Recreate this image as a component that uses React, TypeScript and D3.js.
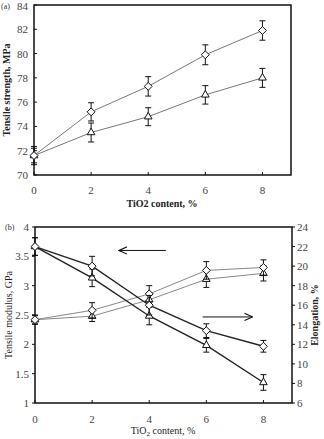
import React from "react";
import * as d3 from "d3";

if (typeof document !== "undefined") document.body.style.margin = "0";

const xTicks = [0, 2, 4, 6, 8];
const content = [0, 2, 4, 6, 8];

// (a) tensile strength, MPa
const tsDiamond = [71.6, 75.2, 77.3, 79.9, 81.9];
const tsDiamondErr = [0.75, 0.75, 0.8, 0.82, 0.8];
const tsTriangle = [71.6, 73.5, 74.8, 76.6, 78.0];
const tsTriangleErr = [0.6, 0.78, 0.74, 0.76, 0.78];
const tsTicks = [70, 72, 74, 76, 78, 80, 82, 84];

// (b) tensile modulus, GPa (left axis)
const modDiamond = [2.42, 2.58, 2.86, 3.26, 3.31];
const modDiamondErr = [0.08, 0.13, 0.14, 0.15, 0.13];
const modTriangle = [2.42, 2.48, 2.76, 3.11, 3.21];
const modTriangleErr = [0.07, 0.09, 0.12, 0.14, 0.13];
const modTicks = [1, 1.5, 2, 2.5, 3, 3.5, 4];

// (b) elongation, % (right axis)
const elDiamond = [22.0, 20.0, 16.0, 13.4, 11.8];
const elDiamondErr = [0.9, 1.0, 1.0, 0.7, 0.6];
const elTriangle = [22.0, 18.8, 14.9, 11.9, 8.1];
const elTriangleErr = [0.9, 0.9, 0.9, 0.7, 0.8];
const elTicks = [6, 8, 10, 12, 14, 16, 18, 20, 22, 24];

const FONT = "'Liberation Serif', 'Times New Roman', 'DejaVu Serif', serif";

type Pt = { x: number; y: number; e: number };
const pts = (ys: number[], es: number[]): Pt[] =>
  content.map((x, i) => ({ x, y: ys[i], e: es[i] }));

function Series({
  data, xs, ys, marker, stroke, width,
}: {
  data: Pt[]; xs: d3.ScaleLinear<number, number>; ys: d3.ScaleLinear<number, number>;
  marker: "diamond" | "triangle"; stroke: string; width: number;
}) {
  const line = d3.line<Pt>().x((d) => xs(d.x)).y((d) => ys(d.y));
  const sym = d3.symbol().type(marker === "diamond" ? d3.symbolDiamond2 : d3.symbolTriangle2).size(marker === "diamond" ? 40 : 42)();
  return (
    <g>
      <path d={line(data) || ""} fill="none" stroke={stroke} strokeWidth={width} />
      {data.map((d, i) => (
        <g key={i}>
          <line x1={xs(d.x)} x2={xs(d.x)} y1={ys(d.y - d.e)} y2={ys(d.y + d.e)} stroke="#111" strokeWidth={1} />
          <line x1={xs(d.x) - 3} x2={xs(d.x) + 3} y1={ys(d.y - d.e)} y2={ys(d.y - d.e)} stroke="#111" strokeWidth={1} />
          <line x1={xs(d.x) - 3} x2={xs(d.x) + 3} y1={ys(d.y + d.e)} y2={ys(d.y + d.e)} stroke="#111" strokeWidth={1} />
          <path d={sym || ""} transform={`translate(${xs(d.x)},${ys(d.y)})`} fill="white" stroke="#111" strokeWidth={1} />
        </g>
      ))}
    </g>
  );
}

export default function App() {
  // panel (a)
  const xa = d3.scaleLinear().domain([0, 9]).range([34, 291]);
  const ya = d3.scaleLinear().domain([70, 84]).range([175, 5]);
  // panel (b)
  const xb = d3.scaleLinear().domain([0, 9]).range([35, 292]);
  const yb = d3.scaleLinear().domain([1, 4]).range([403, 227]);
  const yr = d3.scaleLinear().domain([6, 24]).range([403, 227]);

  const tickStyle = { fontFamily: FONT, fontSize: 11, fill: "#444" } as const;

  return (
    <svg width={324} height={439} style={{ display: "block", background: "white" }}>
      <defs>
        <marker id="ah" viewBox="0 0 10 10" refX="9" refY="5" markerWidth="9" markerHeight="9" orient="auto-start-reverse" markerUnits="userSpaceOnUse">
          <path d="M0,1 L9,5 L0,9" fill="none" stroke="#111" strokeWidth={1.2} />
        </marker>
      </defs>

      {/* ---------- panel (a) ---------- */}
      <text x={1} y={9} style={{ fontFamily: FONT, fontSize: 8, fill: "#333" }}>(a)</text>
      <rect x={xa(0)} y={ya(84)} width={xa(9) - xa(0)} height={ya(70) - ya(84)} fill="none" stroke="#111" strokeWidth={1.5} />
      {tsTicks.map((t) => (
        <g key={t}>
          <line x1={xa(0)} x2={xa(0) + 3} y1={ya(t)} y2={ya(t)} stroke="#111" />
          <text x={28} y={Math.max(ya(t) + 4, 10)} textAnchor="end" style={tickStyle}>{t}</text>
        </g>
      ))}
      {xTicks.map((t) => (
        <g key={t}>
          <line x1={xa(t)} x2={xa(t)} y1={ya(70)} y2={ya(70) - 3} stroke="#111" />
          <text x={xa(t)} y={194} textAnchor="middle" style={tickStyle}>{t}</text>
        </g>
      ))}
      <text x={162} y={207} textAnchor="middle" style={{ fontFamily: FONT, fontSize: 10, fontWeight: "bold", fill: "#222" }}>TiO2 content, %</text>
      <text transform={`translate(10,${ya(77)}) rotate(-90)`} textAnchor="middle" style={{ fontFamily: FONT, fontSize: 10, fontWeight: "bold", fill: "#222" }}>Tensile strength, MPa</text>
      <Series data={pts(tsTriangle, tsTriangleErr)} xs={xa} ys={ya} marker="triangle" stroke="#777" width={1} />
      <Series data={pts(tsDiamond, tsDiamondErr)} xs={xa} ys={ya} marker="diamond" stroke="#777" width={1} />

      {/* ---------- panel (b) ---------- */}
      <text x={5} y={230} style={{ fontFamily: FONT, fontSize: 8, fill: "#333" }}>(b)</text>
      <rect x={xb(0)} y={yb(4)} width={xb(9) - xb(0)} height={yb(1) - yb(4)} fill="none" stroke="#111" strokeWidth={1.5} />
      {modTicks.map((t) => (
        <g key={t}>
          <line x1={xb(0)} x2={xb(0) - 3} y1={yb(t)} y2={yb(t)} stroke="#111" />
          <text x={29} y={yb(t) + 4} textAnchor="end" style={tickStyle}>{t}</text>
        </g>
      ))}
      {elTicks.map((t) => (
        <g key={t}>
          <line x1={xb(9)} x2={xb(9) + 3} y1={yr(t)} y2={yr(t)} stroke="#111" />
          <text x={297} y={yr(t) + 4} textAnchor="start" style={tickStyle}>{t}</text>
        </g>
      ))}
      {xTicks.map((t) => (
        <g key={t}>
          <line x1={xb(t)} x2={xb(t)} y1={yb(1)} y2={yb(1) - 3} stroke="#111" />
          <text x={xb(t)} y={423} textAnchor="middle" style={tickStyle}>{t}</text>
        </g>
      ))}
      <text x={163} y={434} textAnchor="middle" style={{ fontFamily: FONT, fontSize: 10, fill: "#222" }}>
        TiO<tspan fontSize={7} dy={2}>2</tspan><tspan dy={-2}> content, %</tspan>
      </text>
      <text transform={`translate(12,${yb(2.5)}) rotate(-90)`} textAnchor="middle" style={{ fontFamily: FONT, fontSize: 10, fill: "#222" }}>Tensile modulus, GPa</text>
      <text transform={`translate(318,${yr(15)}) rotate(-90)`} textAnchor="middle" style={{ fontFamily: FONT, fontSize: 10, fontWeight: "bold", fill: "#222" }}>Elongation, %</text>

      <Series data={pts(modTriangle, modTriangleErr)} xs={xb} ys={yb} marker="triangle" stroke="#888" width={1} />
      <Series data={pts(modDiamond, modDiamondErr)} xs={xb} ys={yb} marker="diamond" stroke="#888" width={1} />
      <Series data={pts(elTriangle, elTriangleErr)} xs={xb} ys={yr} marker="triangle" stroke="#222" width={1.4} />
      <Series data={pts(elDiamond, elDiamondErr)} xs={xb} ys={yr} marker="diamond" stroke="#222" width={1.4} />

      <line x1={xb(4.58)} x2={xb(2.94)} y1={yb(3.6)} y2={yb(3.6)} stroke="#111" strokeWidth={1} markerEnd="url(#ah)" />
      <line x1={xb(5.87)} x2={xb(7.62)} y1={yr(14.8)} y2={yr(14.8)} stroke="#111" strokeWidth={1} markerEnd="url(#ah)" />
    </svg>
  );
}
